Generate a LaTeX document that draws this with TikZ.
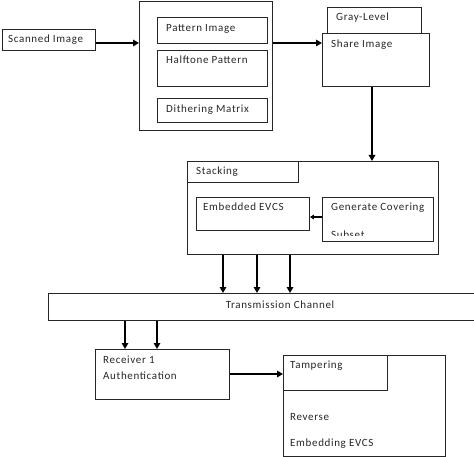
\documentclass[tikz,border=0pt]{standalone}
\usepackage{fontspec}
\setmainfont{Carlito}[LetterSpace=6]
\usetikzlibrary{arrows.meta}
\tikzset{
  box/.style={draw=black!85, line width=0.9bp, inner sep=0pt, anchor=north west},
  lbl/.style={anchor=west, inner sep=0pt, text height=7bp, text depth=2bp, text=black!85,
    font=\fontsize{11bp}{13bp}\selectfont},
  arr/.style={line width=1.8bp, -{Triangle[length=6bp,width=6.5bp]}},
  sarr/.style={line width=1.5bp, -{Triangle[length=4bp,width=4.5bp]}}
}
\begin{document}
\begin{tikzpicture}[x=1bp,y=-1bp]
\useasboundingbox (0,0) rectangle (474,457);
% top row
\node[box, minimum width=93bp, minimum height=21bp] (scan) at (2,29) {};
\node[lbl] (scanT) at (8,40) {Scanned Image};
\node[box, minimum width=133bp, minimum height=129bp] (big) at (139,1) {};
\node[box, minimum width=110bp, minimum height=26bp] (pat) at (157,17) {};
\node[lbl] (patT) at (166,29) {Pattern Image};
\node[box, minimum width=110bp, minimum height=36bp] (half) at (157,50) {};
\node[lbl] (halfT) at (166,61) {Halftone Pattern};
\node[box, minimum width=110bp, minimum height=24bp] (dith) at (157,98) {};
\node[lbl] (dithT) at (166,110) {Dithering Matrix};
\node[box, minimum width=94bp, minimum height=26bp] (gray) at (327,7) {};
\node[lbl] (grayT) at (336,18) {Gray-Level};
\node[box, fill=white, minimum width=107bp, minimum height=53bp] (share) at (322,33) {};
\node[lbl] (shareT) at (331,45) {Share Image};
\coordinate (y43) at (0,43);
\draw[arr] (scan.east |- y43) -- (big.west |- y43);
\draw[arr] (big.east |- y43) -- (share.west |- y43);
% stacking
\node[box, minimum width=251bp, minimum height=93bp] (stack) at (187,161) {};
\node[box, minimum width=111bp, minimum height=21bp] (stackL) at (187,161) {};
\node[lbl] (stackT) at (196,172) {Stacking};
\node[box, minimum width=113bp, minimum height=33bp] (emb) at (196,197) {};
\node[lbl] (embT) at (203,208) {Embedded EVCS};
\node[box, minimum width=111bp, minimum height=44bp] (gen) at (322,197) {};
\node[lbl] (genT) at (331,208) {Generate Covering};
\begin{scope}
  \clip (322,226) rectangle (433,235.5);
  \node[lbl] (subT) at (331,236) {Subset};
\end{scope}
\coordinate (x372) at (372,0);
\draw[arr] (share.south -| x372) -- (stack.north -| x372);
\coordinate (y217) at (0,217);
\draw[sarr] (gen.west |- y217) -- (emb.east |- y217);
% transmission
\node[box, minimum width=425.5bp, minimum height=27bp] (trans) at (48,293) {};
\node[lbl, anchor=center] (transT) at (280,306) {Transmission Channel};
\foreach \x [count=\i] in {223,257,290} {
  \coordinate (d\i) at (\x,0);
  \draw[arr] (stack.south -| d\i) -- (trans.north -| d\i);
}
% receiver
\node[box, minimum width=134bp, minimum height=50bp] (recv) at (95,349) {};
\node[lbl] (recvT1) at (103,361) {Receiver 1};
\node[lbl] (recvT2) at (103,377) {Authentication};
\foreach \x [count=\i] in {125,157} {
  \coordinate (r\i) at (\x,0);
  \draw[arr] (trans.south -| r\i) -- (recv.north -| r\i);
}
% tampering
\node[box, minimum width=162bp, minimum height=101bp] (tamp) at (283,355) {};
\node[box, minimum width=104bp, minimum height=35bp] (tampL) at (283,355) {};
\node[lbl] (tampT) at (290,366) {Tampering};
\node[lbl] (revT) at (290,418) {Reverse};
\node[lbl] (eevT) at (290,444) {Embedding EVCS};
\coordinate (y374) at (0,374);
\draw[arr] (recv.east |- y374) -- (tamp.west |- y374);
\end{tikzpicture}
\end{document}
